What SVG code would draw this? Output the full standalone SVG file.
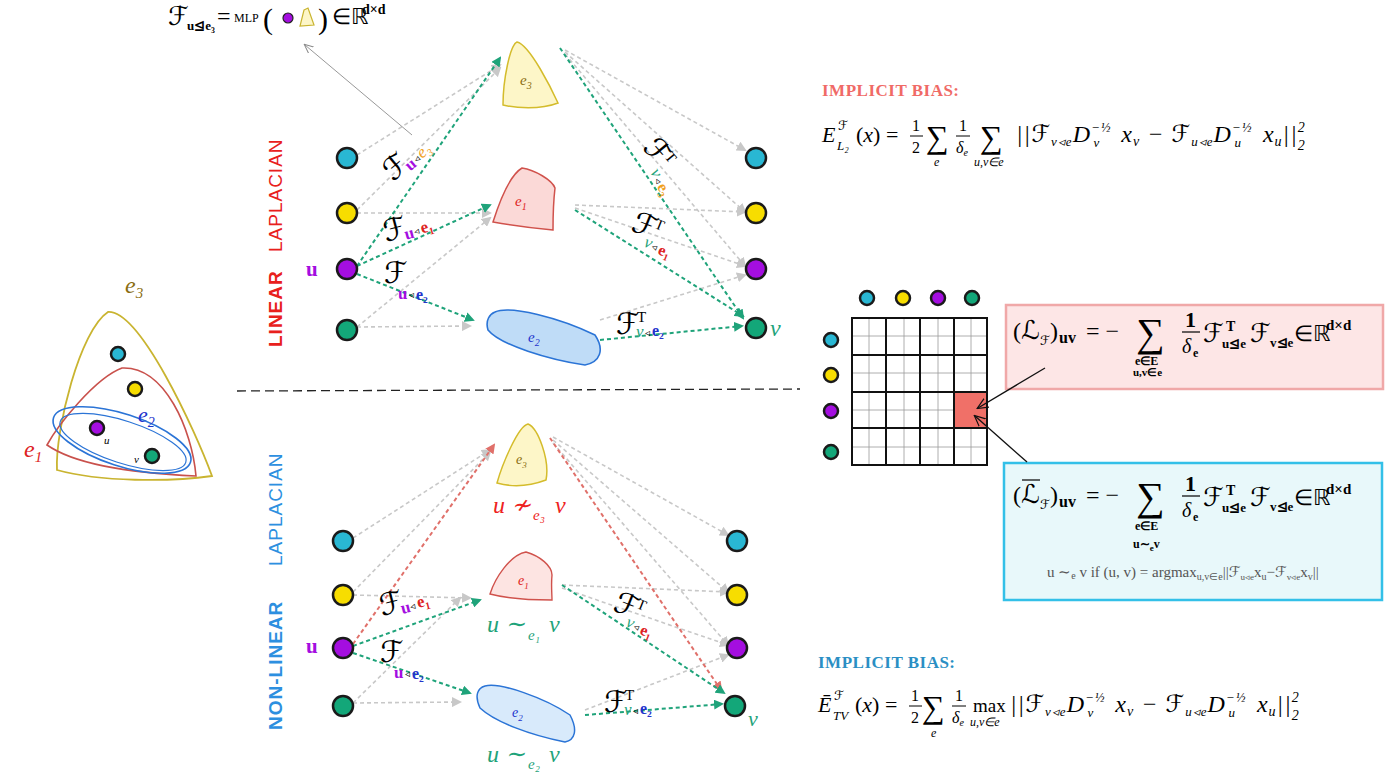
<svg xmlns="http://www.w3.org/2000/svg" width="1397" height="772" viewBox="0 0 1397 772">
<style>
.m{font-family:"Liberation Serif",serif;font-style:italic}
.r{font-family:"Liberation Serif",serif}
.b{font-family:"Liberation Serif",serif;font-weight:bold}
.F{font-family:"DejaVu Serif","DejaVu Sans",serif;font-style:italic}
.nd{stroke:#1a1a1a;stroke-width:2.5}
.g{stroke:#c8c8c8;stroke-width:1.6;stroke-dasharray:4 3;fill:none;marker-end:url(#ag)}
.t{stroke:#1fa37a;stroke-width:2;stroke-dasharray:4 3;fill:none;marker-end:url(#at)}
.rd{stroke:#e0706a;stroke-width:2;stroke-dasharray:4 3;fill:none;marker-end:url(#ar)}
.lab{font-family:"Liberation Sans",sans-serif;font-size:19px;font-weight:bold;letter-spacing:1px}
.lab2{font-family:"Liberation Sans",sans-serif;font-size:19px;letter-spacing:1px}
</style>
<defs>
<marker id="ag" markerWidth="10" markerHeight="10" refX="8" refY="5" orient="auto" markerUnits="userSpaceOnUse"><path d="M0,0L10,5L0,10z" fill="#c8c8c8"/></marker>
<marker id="at" markerWidth="10" markerHeight="10" refX="8" refY="5" orient="auto" markerUnits="userSpaceOnUse"><path d="M0,0L10,5L0,10z" fill="#1fa37a"/></marker>
<marker id="ar" markerWidth="10" markerHeight="10" refX="8" refY="5" orient="auto" markerUnits="userSpaceOnUse"><path d="M0,0L10,5L0,10z" fill="#e0706a"/></marker>
<marker id="ak" markerWidth="12" markerHeight="12" refX="10" refY="6" orient="auto" markerUnits="userSpaceOnUse"><path d="M0,1L11,6L0,11" fill="none" stroke="#111" stroke-width="1.2"/></marker>
<marker id="ak2" markerWidth="10" markerHeight="10" refX="8" refY="5" orient="auto" markerUnits="userSpaceOnUse"><path d="M0,1L9,5L0,9" fill="none" stroke="#888"/></marker>
</defs>
<rect width="1397" height="772" fill="#fff"/>

<g id="connectors">
<path class="g" d="M357,155L500,65"/><path class="g" d="M357,210L500,68"/>
<path class="g" d="M357,213L490,213"/><path class="g" d="M357,327L490,218"/>
<path class="g" d="M357,327L470,326"/>
<path class="g" d="M565,50L745,150"/><path class="g" d="M565,52L745,212"/><path class="g" d="M565,54L745,266"/>
<path class="g" d="M575,205L745,212"/><path class="g" d="M575,208L745,266"/><path class="g" d="M600,320L745,275"/>
<path class="t" d="M357,266L500,58"/><path class="t" d="M357,266L490,205"/><path class="t" d="M357,274L473,320"/>
<path class="t" d="M560,48L743,318"/><path class="t" d="M575,210L743,316"/><path class="t" d="M600,340L742,326"/>
<path d="M412,135L305,45" stroke="#999" stroke-width="1" fill="none" marker-end="url(#ak2)"/>
<path class="g" d="M353,538L490,450"/><path class="g" d="M353,592L490,452"/>
<path class="g" d="M353,595L470,598"/><path class="g" d="M353,703L460,598"/><path class="g" d="M353,703L460,702"/>
<path class="g" d="M553,437L728,535"/><path class="g" d="M553,440L728,592"/><path class="g" d="M553,443L728,645"/>
<path class="g" d="M562,585L728,592"/><path class="g" d="M562,588L728,645"/><path class="g" d="M585,710L728,655"/>
<path class="rd" d="M353,644L494,445"/><path class="rd" d="M550,438L721,690"/>
<path class="t" d="M353,646L480,600"/><path class="t" d="M353,653L470,693"/>
<path class="t" d="M562,585L724,693"/><path class="t" d="M585,715L722,704"/>
</g>

<line x1="237" y1="391" x2="800" y2="389" stroke="#222" stroke-width="1.3" stroke-dasharray="9 5"/>

<g id="hypergraph">
<path d="M108,312C80,330 55,430 57,470C100,482 170,482 212,476C195,430 140,310 108,312Z" fill="none" stroke="#c9b430" stroke-width="1.8"/>
<path d="M122,368C95,378 58,425 47,445C80,468 150,474 196,476C192,430 165,366 122,368Z" fill="none" stroke="#c9514c" stroke-width="1.6"/>
<ellipse cx="122" cy="440" rx="72" ry="26" transform="rotate(18 122 440)" fill="none" stroke="#2b74d6" stroke-width="1.6"/>
<ellipse cx="123" cy="442" rx="66" ry="21" transform="rotate(18 123 442)" fill="none" stroke="#2b74d6" stroke-width="1.2"/>
<circle cx="118" cy="354" r="7" fill="#29b7d3" class="nd" stroke-width="1.8"/>
<circle cx="135" cy="389" r="7" fill="#f7dd00" class="nd" stroke-width="1.8"/>
<circle cx="97" cy="428" r="7" fill="#a40ee0" class="nd" stroke-width="1.8"/>
<circle cx="152" cy="456" r="7" fill="#13a779" class="nd" stroke-width="1.8"/>
<text x="104" y="444" class="m" font-size="11">u</text><text x="134" y="463" class="m" font-size="11">v</text>
<text x="125" y="293" class="m" font-size="24" fill="#8a6d10">e<tspan font-size="15" dy="5">3</tspan></text>
<text x="138" y="422" class="m" font-size="22" fill="#2233cc">e<tspan font-size="14" dy="5">2</tspan></text>
<text x="24" y="457" class="m" font-size="24" fill="#d22">e<tspan font-size="15" dy="5">1</tspan></text>
</g>

<g id="labels-side">
<text class="lab" fill="#e8201c" transform="translate(282,347) rotate(-90)">LINEAR</text>
<text class="lab2" fill="#e8201c" transform="translate(282,252) rotate(-90)">LAPLACIAN</text>
<text class="lab" fill="#2d8fe0" transform="translate(282,730) rotate(-90)">NON-LINEAR</text>
<text class="lab2" fill="#2d8fe0" transform="translate(282,566) rotate(-90)">LAPLACIAN</text>
</g>

<g id="mlp-label">
<text x="168" y="25" class="F" font-size="26">ℱ</text>
<text x="187" y="30" class="b" font-size="13">u⊴e₃</text>
<text x="217" y="24" class="r" font-size="24">=</text>
<text x="234" y="22" class="r" font-size="12">MLP</text>
<text x="263" y="29" class="r" font-size="30">(</text>
<circle cx="288" cy="18" r="5" fill="#a40ee0" stroke="#222" stroke-width="1.2"/>
<path d="M304,10L308,8L314,25L300,26Z" fill="#fdf6c8" stroke="#c9b430" stroke-width="1.2"/>
<text x="318" y="29" class="r" font-size="30">)</text>
<text x="332" y="24" class="r" font-size="22">∈ℝ</text>
<text x="362" y="14" class="b" font-size="14">d×d</text>
</g>

<g id="top-nodes">
<circle cx="347" cy="158" r="10" fill="#29b7d3" class="nd"/>
<circle cx="347" cy="213" r="10" fill="#f7dd00" class="nd"/>
<circle cx="347" cy="269" r="10" fill="#a40ee0" class="nd"/>
<circle cx="347" cy="330" r="10" fill="#13a779" class="nd"/>
<circle cx="756" cy="158" r="10" fill="#29b7d3" class="nd"/>
<circle cx="756" cy="213" r="10" fill="#f7dd00" class="nd"/>
<circle cx="756" cy="269" r="10" fill="#a40ee0" class="nd"/>
<circle cx="756" cy="328" r="10" fill="#13a779" class="nd"/>
<text x="306" y="276" class="b" font-size="21" fill="#a40ee0">u</text>
<text x="770" y="336" class="m" font-size="24" fill="#1fa37a">v</text>
<path d="M517,42C530,45 552,90 558,103C540,110 515,108 503,105C503,80 510,45 517,42Z" fill="#fdf6c8" stroke="#d4bc2c" stroke-width="1.5"/>
<text x="520" y="85" class="m" font-size="15" fill="#8a6d10">e<tspan font-size="10" dy="4">3</tspan></text>
<path d="M522,168C535,170 552,180 555,188C553,205 553,220 553,230C530,228 510,225 493,222C500,200 510,175 522,168Z" fill="#fbd9d7" stroke="#d0524c" stroke-width="1.5"/>
<text x="515" y="206" class="m" font-size="15" fill="#d22">e<tspan font-size="10" dy="4">1</tspan></text>
<path d="M495,312C510,305 560,318 595,335C605,350 600,362 585,365C550,360 500,345 488,330C485,320 490,314 495,312Z" fill="#bfdcf7" stroke="#2b74d6" stroke-width="1.6"/>
<text x="528" y="342" class="m" font-size="15" fill="#2233cc">e<tspan font-size="10" dy="4">2</tspan></text>
<g transform="translate(393,182) rotate(-40)">
<text class="F" font-size="30">ℱ</text><text x="20" y="3" class="b" font-size="17" fill="#a40ee0">u</text><text x="30" y="1" class="r" font-size="10">◃</text><text x="37" y="1" class="m" font-size="17" fill="#f0a020">e₃</text></g>
<g transform="translate(386,242) rotate(-15)">
<text class="F" font-size="30">ℱ</text><text x="20" y="3" class="b" font-size="17" fill="#a40ee0">u</text><text x="30" y="1" class="r" font-size="10">◃</text><text x="37" y="1" class="b" font-size="17" fill="#d22">e₁</text></g>
<text x="384" y="283" class="F" font-size="30">ℱ</text>
<text x="398" y="299" class="b" font-size="17" fill="#a40ee0">u</text><text x="409" y="298" class="r" font-size="10">◃</text><text x="416" y="300" class="b" font-size="16" fill="#2233cc">e₂</text>
<g transform="translate(642,148) rotate(50)">
<text class="F" font-size="30">ℱ</text><text x="21" y="-11" class="r" font-size="15">T</text></g>
<g transform="translate(650,172) rotate(62)"><text class="m" font-size="17" fill="#1fa37a">v</text><text x="9" y="0" class="r" font-size="10">◃</text><text x="16" y="1" class="b" font-size="16" fill="#f0a020">e₃</text></g>
<g transform="translate(630,230) rotate(22)">
<text class="F" font-size="30">ℱ</text><text x="21" y="-11" class="r" font-size="15">T</text><text x="18" y="10" class="m" font-size="17" fill="#1fa37a">v</text><text x="27" y="10" class="r" font-size="10">◃</text><text x="34" y="12" class="b" font-size="16" fill="#d22">e₁</text></g>
<g transform="translate(616,334)">
<text class="F" font-size="30">ℱ</text><text x="21" y="-12" class="r" font-size="15">T</text><text x="20" y="3" class="m" font-size="17" fill="#1fa37a">v</text><text x="29" y="2" class="r" font-size="10">◃</text><text x="36" y="2" class="b" font-size="16" fill="#2233cc">e₂</text></g>
</g>

<g id="bottom-nodes">
<circle cx="343" cy="541" r="10" fill="#29b7d3" class="nd"/>
<circle cx="343" cy="595" r="10" fill="#f7dd00" class="nd"/>
<circle cx="343" cy="648" r="10" fill="#a40ee0" class="nd"/>
<circle cx="343" cy="706" r="10" fill="#13a779" class="nd"/>
<circle cx="737" cy="541" r="10" fill="#29b7d3" class="nd"/>
<circle cx="737" cy="595" r="10" fill="#f7dd00" class="nd"/>
<circle cx="737" cy="648" r="10" fill="#a40ee0" class="nd"/>
<circle cx="735" cy="706" r="10" fill="#13a779" class="nd"/>
<text x="306" y="653" class="b" font-size="21" fill="#a40ee0">u</text>
<text x="748" y="726" class="m" font-size="22" fill="#1fa37a">v</text>
<path d="M528,424C538,428 550,460 546,480C530,486 515,488 497,483C502,465 518,426 528,424Z" fill="#fdf6c8" stroke="#d4bc2c" stroke-width="1.5"/>
<text x="516" y="464" class="m" font-size="14" fill="#8a6d10">e<tspan font-size="9" dy="4">3</tspan></text>
<text x="493" y="513" class="m" font-size="24" fill="#e22">u ≁</text><text x="533" y="520" class="m" font-size="15" fill="#e22">e₃</text><text x="555" y="513" class="m" font-size="24" fill="#e22">v</text>
<path d="M526,552C540,556 552,566 552,575C551,585 552,595 552,600C530,600 505,598 490,594C495,578 510,555 526,552Z" fill="#fde4e2" stroke="#d0524c" stroke-width="1.4"/>
<text x="518" y="585" class="m" font-size="14" fill="#d22">e<tspan font-size="9" dy="4">1</tspan></text>
<text x="487" y="632" class="m" font-size="24" fill="#1fa37a">u ∼</text><text x="528" y="640" class="m" font-size="15" fill="#1fa37a">e₁</text><text x="549" y="632" class="m" font-size="24" fill="#1fa37a">v</text>
<path d="M485,686C500,682 545,698 570,715C578,730 575,740 565,742C530,735 495,722 480,708C474,695 478,688 485,686Z" fill="#d8eafb" stroke="#2b74d6" stroke-width="1.5"/>
<text x="512" y="717" class="m" font-size="14" fill="#2233cc">e<tspan font-size="9" dy="4">2</tspan></text>
<text x="487" y="762" class="m" font-size="24" fill="#1fa37a">u ∼</text><text x="528" y="769" class="m" font-size="15" fill="#1fa37a">e₂</text><text x="549" y="762" class="m" font-size="24" fill="#1fa37a">v</text>
<g transform="translate(382,616) rotate(-14)">
<text class="F" font-size="30">ℱ</text><text x="20" y="3" class="b" font-size="17" fill="#a40ee0">u</text><text x="30" y="1" class="r" font-size="10">◃</text><text x="37" y="1" class="b" font-size="17" fill="#d22">e₁</text></g>
<text x="380" y="662" class="F" font-size="30">ℱ</text>
<text x="394" y="678" class="b" font-size="17" fill="#a40ee0">u</text><text x="405" y="677" class="r" font-size="10">◃</text><text x="412" y="679" class="b" font-size="16" fill="#2233cc">e₂</text>
<g transform="translate(612,610) rotate(22)">
<text class="F" font-size="30">ℱ</text><text x="21" y="-11" class="r" font-size="15">T</text><text x="18" y="10" class="m" font-size="17" fill="#1fa37a">v</text><text x="27" y="10" class="r" font-size="10">◃</text><text x="34" y="12" class="b" font-size="16" fill="#d22">e₁</text></g>
<g transform="translate(604,712)">
<text class="F" font-size="30">ℱ</text><text x="21" y="-12" class="r" font-size="15">T</text><text x="20" y="3" class="m" font-size="17" fill="#1fa37a">v</text><text x="29" y="2" class="r" font-size="10">◃</text><text x="36" y="2" class="b" font-size="16" fill="#2233cc">e₂</text></g>
</g>

<g id="matrix">
<g stroke="#999" stroke-width="0.8">
<path d="M869,318V465M904,318V465M938,318V465M971,318V465M852,336H987M852,373H987M852,410H987M852,447H987"/>
</g>
<rect x="954" y="392" width="33" height="36" fill="#f07068" stroke="#c04"/>
<g stroke="#111" stroke-width="2" fill="none">
<rect x="852" y="318" width="135" height="147"/>
<path d="M886,318V465M920,318V465M954,318V465M852,355H987M852,392H987M852,428H987"/>
</g>
<circle cx="867" cy="298" r="7" fill="#29b7d3" class="nd" stroke-width="1.8"/>
<circle cx="903" cy="298" r="7" fill="#f7dd00" class="nd" stroke-width="1.8"/>
<circle cx="938" cy="298" r="7" fill="#a40ee0" class="nd" stroke-width="1.8"/>
<circle cx="972" cy="298" r="7" fill="#13a779" class="nd" stroke-width="1.8"/>
<circle cx="831" cy="340" r="7" fill="#29b7d3" class="nd" stroke-width="1.8"/>
<circle cx="831" cy="375" r="7" fill="#f7dd00" class="nd" stroke-width="1.8"/>
<circle cx="831" cy="411" r="7" fill="#a40ee0" class="nd" stroke-width="1.8"/>
<circle cx="831" cy="452" r="7" fill="#13a779" class="nd" stroke-width="1.8"/>
</g>

<g id="box-linear">
<rect x="1006" y="305" width="377" height="84" fill="#fde6e6" stroke="#f0a8a8" stroke-width="2.5"/>
<text x="1013" y="339" class="r" font-size="24">(</text><text x="1021" y="339" class="F" font-size="26">ℒ</text><text x="1040" y="345" class="F" font-size="13">ℱ</text><text x="1050" y="339" class="r" font-size="24">)</text>
<text x="1059" y="343" class="b" font-size="16">uv</text>
<text x="1086" y="339" class="r" font-size="24">= −</text>
<text x="1136" y="346" class="r" font-size="40">∑</text>
<text x="1135" y="365" class="b" font-size="12">e∈E</text>
<text x="1133" y="376" class="b" font-size="11">u,v∈e</text>
<text x="1185" y="327" class="b" font-size="22">1</text>
<line x1="1182" y1="332" x2="1200" y2="332" stroke="#000" stroke-width="1.2"/>
<text x="1182" y="353" class="m" font-size="20">δ</text><text x="1193" y="357" class="b" font-size="12">e</text>
<text x="1203" y="342" class="F" font-size="26">ℱ</text><text x="1226" y="331" class="b" font-size="14">T</text>
<text x="1222" y="348" class="b" font-size="13">u⊴e</text>
<text x="1250" y="342" class="F" font-size="26">ℱ</text><text x="1270" y="347" class="b" font-size="13">v⊴e</text>
<text x="1294" y="341" class="r" font-size="22">∈ℝ</text>
<text x="1326" y="330" class="b" font-size="15">d×d</text>
</g>

<g id="box-nonlinear">
<rect x="1004" y="463" width="378" height="137" fill="#e8f8fa" stroke="#33c0e8" stroke-width="2.5"/>
<text x="1013" y="503" class="r" font-size="24">(</text><text x="1021" y="503" class="F" font-size="26">ℒ</text><line x1="1022" y1="480" x2="1040" y2="480" stroke="#000" stroke-width="1.2"/><text x="1040" y="509" class="F" font-size="13">ℱ</text><text x="1050" y="503" class="r" font-size="24">)</text>
<text x="1059" y="507" class="b" font-size="16">uv</text>
<text x="1086" y="503" class="r" font-size="24">= −</text>
<text x="1136" y="510" class="r" font-size="40">∑</text>
<text x="1135" y="530" class="b" font-size="12">e∈E</text>
<text x="1133" y="548" class="b" font-size="12">u∼<tspan font-size="9" dy="3">e</tspan><tspan dy="-3">v</tspan></text>
<text x="1185" y="491" class="b" font-size="22">1</text>
<line x1="1182" y1="496" x2="1200" y2="496" stroke="#000" stroke-width="1.2"/>
<text x="1182" y="517" class="m" font-size="20">δ</text><text x="1193" y="521" class="b" font-size="12">e</text>
<text x="1203" y="506" class="F" font-size="26">ℱ</text><text x="1226" y="495" class="b" font-size="14">T</text>
<text x="1222" y="512" class="b" font-size="13">u⊴e</text>
<text x="1250" y="506" class="F" font-size="26">ℱ</text><text x="1270" y="511" class="b" font-size="13">v⊴e</text>
<text x="1294" y="505" class="r" font-size="22">∈ℝ</text>
<text x="1326" y="494" class="b" font-size="15">d×d</text>
<text x="1047" y="577" class="r" font-size="15" fill="#555">u ∼<tspan font-size="10" dy="2">e</tspan><tspan dy="-2"> v if (u, v) = argmax</tspan><tspan font-size="10" dy="3">u,v∈e</tspan><tspan dy="-3">||</tspan><tspan class="F" font-size="15">ℱ</tspan><tspan font-size="9" dy="3">u◃e</tspan><tspan dy="-3">x</tspan><tspan font-size="10" dy="3">u</tspan><tspan dy="-3">−</tspan><tspan class="F" font-size="15">ℱ</tspan><tspan font-size="9" dy="3">v◃e</tspan><tspan dy="-3">x</tspan><tspan font-size="10" dy="3">v</tspan><tspan dy="-3">||</tspan></text>
</g>

<g id="matrix-arrows">
<path d="M1045,368L978,408" stroke="#111" stroke-width="1.3" fill="none" marker-end="url(#ak)"/>
<path d="M1027,462L975,416" stroke="#111" stroke-width="1.3" fill="none" marker-end="url(#ak)"/>
</g>

<g id="bias-top">
<text x="822" y="96" class="b" font-size="17" fill="#f06a66" letter-spacing="0.5">IMPLICIT BIAS:</text>
<text x="822" y="142" class="m" font-size="22">E</text><text x="838" y="130" class="F" font-size="13">ℱ</text><text x="837" y="150" class="m" font-size="13">L₂</text>
<text x="856" y="142" class="r" font-size="22">(<tspan class="m">x</tspan>) =</text>
<text x="912" y="131" class="r" font-size="16">1</text><line x1="910" y1="136" x2="923" y2="136" stroke="#000"/><text x="912" y="153" class="r" font-size="16">2</text>
<text x="926" y="148" class="r" font-size="32">∑</text><text x="934" y="166" class="m" font-size="12">e</text>
<text x="959" y="131" class="r" font-size="16">1</text><line x1="956" y1="136" x2="970" y2="136" stroke="#000"/><text x="956" y="153" class="m" font-size="16">δ<tspan font-size="10" dy="3">e</tspan></text>
<text x="980" y="148" class="r" font-size="32">∑</text><text x="974" y="166" class="m" font-size="12">u,v∈e</text>
<text x="1016" y="142" class="m" font-size="24" letter-spacing="1"><tspan class="r">||</tspan><tspan class="F" font-size="24">ℱ</tspan><tspan font-size="13" dy="4">v◃e</tspan><tspan dy="-4">D</tspan><tspan font-size="13" dy="-10">−½</tspan><tspan font-size="13" dx="-18" dy="15">v</tspan><tspan dx="14" dy="-5"> x</tspan><tspan font-size="14" dy="4">v</tspan><tspan class="r" dy="-4"> − </tspan><tspan class="F" font-size="24">ℱ</tspan><tspan font-size="13" dy="4">u◃e</tspan><tspan dy="-4">D</tspan><tspan font-size="13" dy="-10">−½</tspan><tspan font-size="13" dx="-18" dy="15">u</tspan><tspan dx="14" dy="-5"> x</tspan><tspan font-size="14" dy="4">u</tspan><tspan class="r" dy="-4">||</tspan><tspan font-size="14" class="r" dy="-10">2</tspan><tspan font-size="14" class="r" dx="-8" dy="18">2</tspan></text>
</g>

<g id="bias-bottom">
<text x="818" y="668" class="b" font-size="17" fill="#2a8fc4" letter-spacing="0.5">IMPLICIT BIAS:</text>
<text x="818" y="712" class="m" font-size="22">Ē</text><text x="834" y="700" class="F" font-size="13">ℱ</text><text x="833" y="720" class="m" font-size="13">TV</text>
<text x="855" y="712" class="r" font-size="22">(<tspan class="m">x</tspan>) =</text>
<text x="911" y="701" class="r" font-size="16">1</text><line x1="909" y1="706" x2="922" y2="706" stroke="#000"/><text x="911" y="723" class="r" font-size="16">2</text>
<text x="922" y="718" class="r" font-size="32">∑</text><text x="931" y="737" class="m" font-size="12">e</text>
<text x="955" y="701" class="r" font-size="16">1</text><line x1="952" y1="706" x2="966" y2="706" stroke="#000"/><text x="952" y="723" class="m" font-size="16">δ<tspan font-size="10" dy="3">e</tspan></text>
<text x="973" y="712" class="r" font-size="19">max</text><text x="970" y="726" class="m" font-size="12">u,v∈e</text>
<text x="1010" y="712" class="m" font-size="24" letter-spacing="1"><tspan class="r">||</tspan><tspan class="F" font-size="24">ℱ</tspan><tspan font-size="13" dy="4">v◃e</tspan><tspan dy="-4">D</tspan><tspan font-size="13" dy="-10">−½</tspan><tspan font-size="13" dx="-18" dy="15">v</tspan><tspan dx="14" dy="-5"> x</tspan><tspan font-size="14" dy="4">v</tspan><tspan class="r" dy="-4"> − </tspan><tspan class="F" font-size="24">ℱ</tspan><tspan font-size="13" dy="4">u◃e</tspan><tspan dy="-4">D</tspan><tspan font-size="13" dy="-10">−½</tspan><tspan font-size="13" dx="-18" dy="15">u</tspan><tspan dx="14" dy="-5"> x</tspan><tspan font-size="14" dy="4">u</tspan><tspan class="r" dy="-4">||</tspan><tspan font-size="14" class="r" dy="-10">2</tspan><tspan font-size="14" class="r" dx="-8" dy="18">2</tspan></text>
</g>
</svg>
